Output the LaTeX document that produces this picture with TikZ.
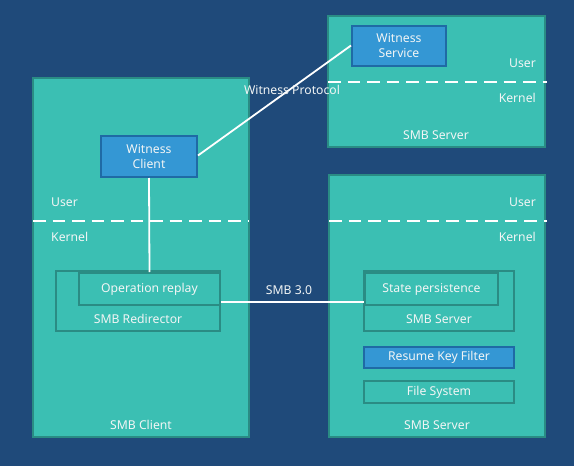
\documentclass[tikz,border=0pt]{standalone}
\usepackage{fontspec}
\setmainfont{Noto Sans}
\definecolor{bgc}{HTML}{1F4A7A}
\definecolor{teal}{HTML}{3BBFB3}
\definecolor{tealdk}{HTML}{2A8C84}
\definecolor{bluebox}{HTML}{3497D4}
\definecolor{bluedk}{HTML}{1F6AA5}
\definecolor{txt}{HTML}{F2F5F5}
\begin{document}
\begin{tikzpicture}[x=1pt,y=-1pt,
  panel/.style={fill=teal,draw=tealdk,line width=2pt},
  sub/.style={draw=tealdk,line width=2pt},
  bbox/.style={fill=bluebox,draw=bluedk,line width=2pt},
  lbl/.style={text=txt,font=\fontsize{12.2}{15}\selectfont,inner sep=0pt,align=center},
  sep/.style={draw=white,line width=2.6pt,dash pattern=on 12.5pt off 7pt},
  conn/.style={draw=white,line width=1.8pt}]
\fill[bgc] (0,0) rectangle (574,466);
\useasboundingbox (0,0) rectangle (574,466);
% panels
\draw[panel] (33,78) rectangle (249,437);
\draw[panel] (328,16) rectangle (545,147);
\draw[panel] (329,175) rectangle (545,437);
% separators
\draw[sep] (328,82) -- (547,82);
\draw[sep] (33,221) -- (249,221);
\draw[sep] (329,221) -- (547,221);
% user/kernel labels
\node[lbl,anchor=east] at (536,63) {User};
\node[lbl,anchor=east] at (536,98) {Kernel};
\node[lbl,anchor=west] at (51,202) {User};
\node[lbl,anchor=west] at (51,237) {Kernel};
\node[lbl,anchor=east] at (536,202) {User};
\node[lbl,anchor=east] at (536,237) {Kernel};
\node[lbl] (srvtop) at (436,135) {SMB Server};
\node[lbl] (client) at (141,425) {SMB Client};
\node[lbl] (srvbot) at (437,425) {SMB Server};
% blue boxes
\node[bbox,lbl,minimum width=94pt,minimum height=40pt,inner sep=0pt] (ws) at (399,45.5) {Witness\\Service};
\node[bbox,lbl,minimum width=96pt,minimum height=41pt,inner sep=0pt] (wc) at (149,156.5) {Witness\\Client};
% redirector
\draw[sub] (56,271) rectangle (220,331);
\node[sub,lbl,minimum width=141pt,minimum height=32pt,inner sep=0pt] (op) at (149.5,289) {Operation replay};
\node[lbl] (redir) at (138,319) {SMB Redirector};
% server
\draw[sub] (364,271) rectangle (514,331);
\node[sub,lbl,minimum width=133pt,minimum height=32pt,inner sep=0pt] (sp) at (431.5,289) {State persistence};
\node[lbl] (smbsrv) at (439,319) {SMB Server};
\node[bbox,lbl,minimum width=150pt,minimum height=21pt,inner sep=0pt] (rkf) at (439,357.5) {Resume Key Filter};
\node[sub,lbl,minimum width=150pt,minimum height=22pt,inner sep=0pt] (fs) at (439,392) {File System};
% connectors
\draw[conn] (wc.east) ++(0,-1) coordinate (wcE) -- (ws.west);
\node[lbl] (wp) at (292,89.5) {Witness Protocol};
\draw[conn] (wc.south) -- (op.north);
\draw[conn] (op.east |- 0,302) coordinate (opE) -- (sp.west |- 0,302) coordinate (spW);
\node[lbl] (smb3) at (289,290) {SMB 3.0};
\end{tikzpicture}
\end{document}
